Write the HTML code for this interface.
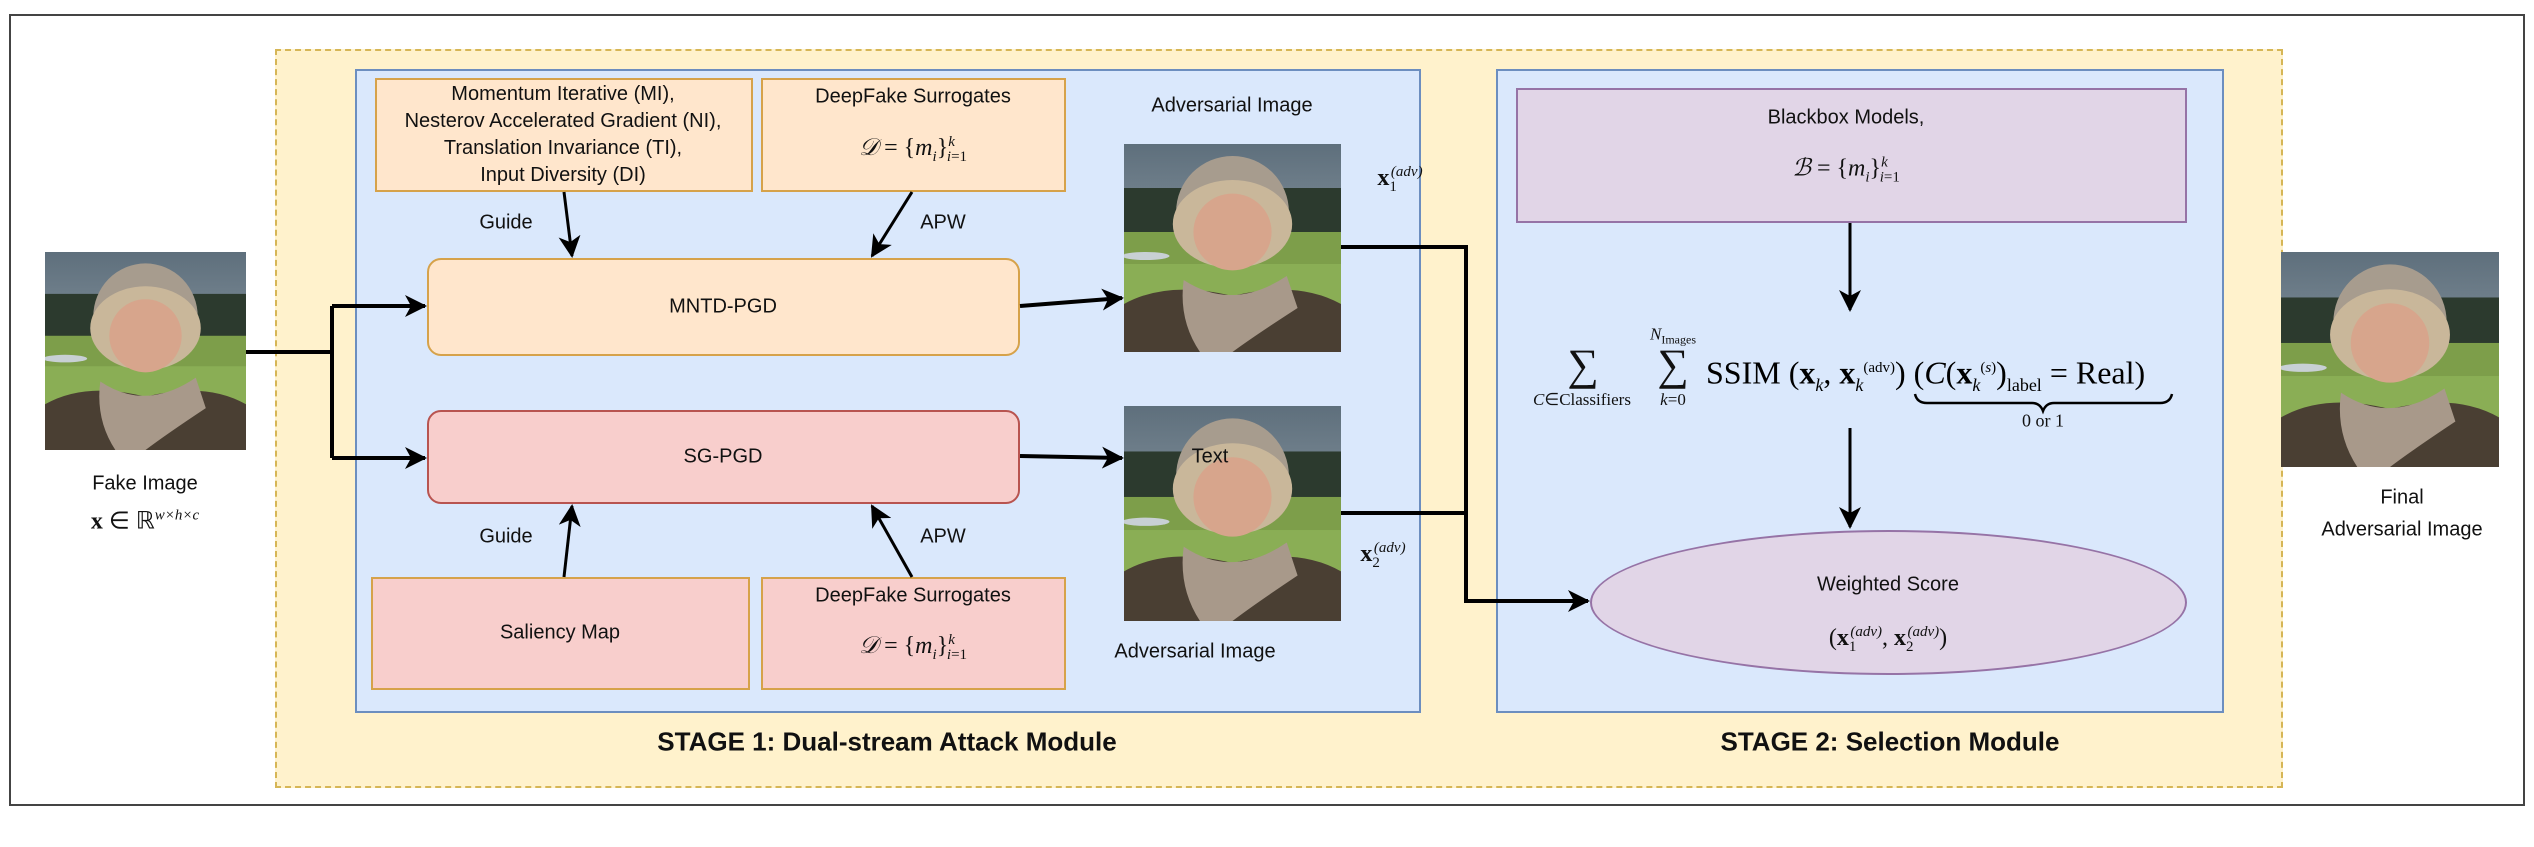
<!DOCTYPE html>
<html><head><meta charset="utf-8"><style>
body{margin:0;width:2534px;height:847px;background:#fff;position:relative;overflow:hidden;font-family:"Liberation Sans",sans-serif;}
.a{position:absolute;box-sizing:border-box;}
.t{position:absolute;transform:translate(-50%,-50%);white-space:nowrap;font-size:20px;color:#111;text-align:center;}
.m{font-family:"Liberation Serif",serif;font-size:24px;}
.b{font-weight:bold;font-size:26px;}
svg.p{position:absolute;}
</style></head><body>
<svg width="0" height="0" style="position:absolute">
<defs>
<linearGradient id="sky" x1="0" y1="0" x2="0" y2="1"><stop offset="0" stop-color="#5e6f7c"/><stop offset="1" stop-color="#a7b3bb"/></linearGradient>
<symbol id="por" viewBox="0 0 200 260" preserveAspectRatio="none">
<rect width="200" height="260" fill="url(#sky)"/>
<rect y="55" width="200" height="60" fill="#2c3a2e"/>
<rect y="110" width="200" height="150" fill="#7d9e4a"/>
<rect y="150" width="200" height="110" fill="#8aae55"/>
<ellipse cx="20" cy="140" rx="22" ry="5" fill="#c8d0d4"/>
<ellipse cx="100" cy="85" rx="52" ry="70" fill="#a79c8e"/>
<ellipse cx="100" cy="100" rx="55" ry="55" fill="#c9b79a"/>
<ellipse cx="100" cy="110" rx="36" ry="48" fill="#d7a58c"/>
<path d="M0 260 L0 200 Q40 170 100 190 Q160 170 200 200 L200 260Z" fill="#4a3f33"/>
<path d="M55 170 Q100 210 150 165 L160 205 Q120 240 100 260 L70 260 Q50 220 55 170Z" fill="#a8998a"/>
</symbol>
</defs>
</svg>

<div class="a" style="left:9px;top:14px;width:2516px;height:792px;border:2px solid #444;"></div>
<div class="a" style="left:275px;top:49px;width:2008px;height:739px;background:#fff2cc;border:2px dashed #d6b656;"></div>
<div class="a" style="left:355px;top:69px;width:1066px;height:644px;background:#dae8fc;border:2px solid #6c8ebf;"></div>
<div class="a" style="left:1496px;top:69px;width:728px;height:644px;background:#dae8fc;border:2px solid #6c8ebf;"></div>

<div class="a" style="left:375px;top:78px;width:378px;height:114px;background:#ffe6cc;border:2px solid #d6a24a;"></div>
<div class="a" style="left:761px;top:78px;width:305px;height:114px;background:#ffe6cc;border:2px solid #d6a24a;"></div>
<div class="a" style="left:427px;top:258px;width:593px;height:98px;background:#ffe6cc;border:2px solid #d6a24a;border-radius:14px;"></div>
<div class="a" style="left:427px;top:410px;width:593px;height:94px;background:#f8cecc;border:2px solid #b85450;border-radius:14px;"></div>
<div class="a" style="left:371px;top:577px;width:379px;height:113px;background:#f8cecc;border:2px solid #d6a24a;"></div>
<div class="a" style="left:761px;top:577px;width:305px;height:113px;background:#f8cecc;border:2px solid #d6a24a;"></div>
<div class="a" style="left:1516px;top:88px;width:671px;height:135px;background:#e1d5e7;border:2px solid #9673a6;"></div>
<div class="a" style="left:1590px;top:530px;width:597px;height:145px;background:#e1d5e7;border:2px solid #9673a6;border-radius:50%;"></div>

<svg class="p" style="left:45px;top:252px" width="201" height="198"><use href="#por" width="201" height="198"/></svg>
<svg class="p" style="left:1124px;top:144px" width="217" height="208"><use href="#por" width="217" height="208"/></svg>
<svg class="p" style="left:1124px;top:406px" width="217" height="215"><use href="#por" width="217" height="215"/></svg>
<svg class="p" style="left:2281px;top:252px" width="218" height="215"><use href="#por" width="218" height="215"/></svg>

<svg class="p" style="left:0;top:0" width="2534" height="847">
<defs>
<marker id="ar2" markerWidth="22" markerHeight="22" refX="20" refY="11" orient="auto" markerUnits="userSpaceOnUse" viewBox="0 0 22 22"><path d="M0 0L22 11L0 22L6 11Z" fill="#000"/></marker></defs>
<g stroke="#000" stroke-width="4" fill="none">
<path d="M246 352H332"/>
<path d="M332 306V458"/>
<path d="M332 306H425" marker-end="url(#ar2)"/>
<path d="M332 458H425" marker-end="url(#ar2)"/>
<path d="M1020 306L1122 298" marker-end="url(#ar2)"/>
<path d="M1020 456L1122 458" marker-end="url(#ar2)"/>
<path d="M1341 247H1466V601H1588" marker-end="url(#ar2)"/>
<path d="M1341 513H1466"/>
</g>
<g stroke="#000" stroke-width="3" fill="none">
<path d="M564 192L572 256" marker-end="url(#ar2)"/>
<path d="M912 192L872 256" marker-end="url(#ar2)"/>
<path d="M564 577L572 506" marker-end="url(#ar2)"/>
<path d="M912 577L872 506" marker-end="url(#ar2)"/>
<path d="M1850 223V310" marker-end="url(#ar2)"/>
<path d="M1850 428V527" marker-end="url(#ar2)"/>
<path d="M1915 394 Q1917 403 1927 403 H2032 Q2040 403 2043 411 Q2046 403 2054 403 H2160 Q2170 403 2172 394" stroke-width="2.5"/>
</g>
</svg>

<div class="t" style="left:563px;top:135px;line-height:27px;">Momentum Iterative (MI),<br>Nesterov Accelerated Gradient (NI),<br>Translation Invariance (TI),<br>Input Diversity (DI)</div>
<div class="t" style="left:913px;top:97px;">DeepFake Surrogates</div>
<div class="t m" style="left:913px;top:150px;"><i>𝒟</i> = {<i>m<sub style="font-size:15px">i</sub></i>}<sup style="font-size:15px"><i>k</i></sup><sub style="font-size:15px;margin-left:-8px"><i>i</i>=1</sub></div>
<div class="t" style="left:506px;top:223px;">Guide</div>
<div class="t" style="left:943px;top:223px;">APW</div>
<div class="t" style="left:723px;top:307px;">MNTD-PGD</div>
<div class="t" style="left:723px;top:457px;">SG-PGD</div>
<div class="t" style="left:506px;top:537px;">Guide</div>
<div class="t" style="left:943px;top:537px;">APW</div>
<div class="t" style="left:560px;top:633px;">Saliency Map</div>
<div class="t" style="left:913px;top:596px;">DeepFake Surrogates</div>
<div class="t m" style="left:913px;top:648px;"><i>𝒟</i> = {<i>m<sub style="font-size:15px">i</sub></i>}<sup style="font-size:15px"><i>k</i></sup><sub style="font-size:15px;margin-left:-8px"><i>i</i>=1</sub></div>
<div class="t" style="left:1232px;top:106px;">Adversarial Image</div>
<div class="t" style="left:1210px;top:457px;">Text</div>
<div class="t" style="left:1195px;top:652px;">Adversarial Image</div>
<div class="t m" style="left:1400px;top:180px;"><b>x</b><sub style="font-size:15px">1</sub><sup style="font-size:15px;margin-left:-6px"><i>(adv)</i></sup></div>
<div class="t m" style="left:1383px;top:556px;"><b>x</b><sub style="font-size:15px">2</sub><sup style="font-size:15px;margin-left:-6px"><i>(adv)</i></sup></div>
<div class="t" style="left:145px;top:484px;">Fake Image</div>
<div class="t m" style="left:145px;top:521px;"><b>x</b> ∈ ℝ<sup style="font-size:15px"><i>w×h×c</i></sup></div>
<div class="t b" style="left:887px;top:742px;">STAGE 1: Dual-stream Attack Module</div>
<div class="t b" style="left:1890px;top:742px;">STAGE 2: Selection Module</div>
<div class="t" style="left:1846px;top:118px;">Blackbox Models,</div>
<div class="t m" style="left:1846px;top:170px;"><i>ℬ</i> = {<i>m<sub style="font-size:15px">i</sub></i>}<sup style="font-size:15px"><i>k</i></sup><sub style="font-size:15px;margin-left:-8px"><i>i</i>=1</sub></div>
<div class="t m" style="left:1583px;top:365px;font-size:44px;">∑</div>
<div class="t m" style="left:1582px;top:400px;font-size:17px;"><i>C</i>∈Classifiers</div>
<div class="t m" style="left:1673px;top:365px;font-size:44px;">∑</div>
<div class="t m" style="left:1673px;top:336px;font-size:17px;"><i>N</i><sub style="font-size:12px">Images</sub></div>
<div class="t m" style="left:1673px;top:400px;font-size:17px;"><i>k</i>=0</div>
<div class="m" style="position:absolute;left:1706px;top:348px;white-space:nowrap;font-size:32px;line-height:40px;">SSIM (<b>x</b><sub style="font-size:18px"><i>k</i></sub>, <b>x</b><sub style="font-size:18px"><i>k</i></sub><sup style="font-size:15px">(adv)</sup>) (<i>C</i>(<b>x</b><sub style="font-size:18px"><i>k</i></sub><sup style="font-size:15px">(<i>s</i>)</sup>)<sub style="font-size:18px">label</sub> = Real)</div>
<div class="t m" style="left:2043px;top:421px;font-size:18px;">0 or 1</div>
<div class="t" style="left:1888px;top:585px;">Weighted Score</div>
<div class="t m" style="left:1888px;top:640px;">(<b>x</b><sub style="font-size:15px">1</sub><sup style="font-size:15px;margin-left:-6px"><i>(adv)</i></sup>, <b>x</b><sub style="font-size:15px">2</sub><sup style="font-size:15px;margin-left:-6px"><i>(adv)</i></sup>)</div>
<div class="t" style="left:2402px;top:498px;">Final</div>
<div class="t" style="left:2402px;top:530px;">Adversarial Image</div>
</body></html>
